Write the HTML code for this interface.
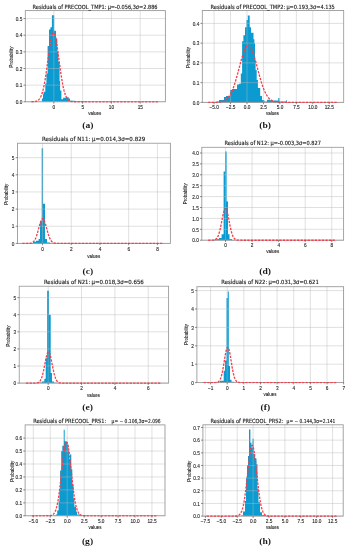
<!DOCTYPE html>
<html><head><meta charset="utf-8"><title>Residual histograms</title>
<style>
html,body{margin:0;padding:0;background:#fff;}
body{width:350px;height:550px;overflow:hidden;}
svg{display:block;}
.tk{font-family:"Liberation Sans", "DejaVu Sans", sans-serif;font-size:5.0px;fill:#222;stroke:#222;stroke-width:0.1px;}
.lb{font-family:"Liberation Sans", "DejaVu Sans", sans-serif;font-size:4.7px;fill:#151515;stroke:#151515;stroke-width:0.08px;}
.ti{font-family:"DejaVu Sans", "Liberation Sans", sans-serif;font-size:5.8px;fill:#1a1a1a;stroke:#1a1a1a;stroke-width:0.14px;}
.ti2{font-family:"DejaVu Sans", "Liberation Sans", sans-serif;font-size:5.5px;fill:#1a1a1a;stroke:#1a1a1a;stroke-width:0.14px;}
.cp{font-family:"Liberation Serif", "DejaVu Serif", serif;font-size:8.2px;font-weight:bold;fill:#1a1a1a;}
</style></head>
<body>
<svg width="350" height="550" viewBox="0 0 350 550">
<rect width="350" height="550" fill="#fff"/>
<clipPath id="c0"><rect x="24.30" y="9.60" width="142.10" height="93.20"/></clipPath>
<g clip-path="url(#c0)">
<path d="M41.90,101.80 L41.90,98.47 L43.00,98.47 L43.00,94.31 L43.60,94.31 L43.60,91.81 L45.30,91.81 L45.30,83.48 L46.40,83.48 L46.40,73.49 L47.60,73.49 L47.60,46.02 L49.00,46.02 L49.00,29.54 L50.40,29.54 L50.40,27.21 L51.90,27.21 L51.90,15.22 L54.20,15.22 L54.20,30.70 L56.00,30.70 L56.00,38.53 L57.30,38.53 L57.30,51.85 L58.40,51.85 L58.40,61.84 L59.60,61.84 L59.60,80.99 L60.10,80.99 L60.10,90.48 L61.40,90.48 L61.40,99.30 L63.10,99.30 L63.10,97.64 L66.10,97.64 L66.10,97.14 L68.70,97.14 L68.70,98.47 L70.00,98.47 L70.00,100.80 L75.00,100.80 L75.00,101.30 L85.00,101.30 L85.00,101.63 L95.00,101.63 L95.00,101.80 Z" fill="#0b9bd0"/>
<line x1="53.80" y1="10.60" x2="53.80" y2="101.80" stroke="#b8b8b8" stroke-opacity="0.55" stroke-width="0.8"/>
<line x1="82.60" y1="10.60" x2="82.60" y2="101.80" stroke="#b8b8b8" stroke-opacity="0.55" stroke-width="0.8"/>
<line x1="111.40" y1="10.60" x2="111.40" y2="101.80" stroke="#b8b8b8" stroke-opacity="0.55" stroke-width="0.8"/>
<line x1="140.20" y1="10.60" x2="140.20" y2="101.80" stroke="#b8b8b8" stroke-opacity="0.55" stroke-width="0.8"/>
<line x1="25.30" y1="101.80" x2="165.40" y2="101.80" stroke="#b8b8b8" stroke-opacity="0.55" stroke-width="0.8"/>
<line x1="25.30" y1="85.15" x2="165.40" y2="85.15" stroke="#b8b8b8" stroke-opacity="0.55" stroke-width="0.8"/>
<line x1="25.30" y1="68.50" x2="165.40" y2="68.50" stroke="#b8b8b8" stroke-opacity="0.55" stroke-width="0.8"/>
<line x1="25.30" y1="51.85" x2="165.40" y2="51.85" stroke="#b8b8b8" stroke-opacity="0.55" stroke-width="0.8"/>
<line x1="25.30" y1="35.20" x2="165.40" y2="35.20" stroke="#b8b8b8" stroke-opacity="0.55" stroke-width="0.8"/>
<line x1="25.30" y1="18.55" x2="165.40" y2="18.55" stroke="#b8b8b8" stroke-opacity="0.55" stroke-width="0.8"/>
<rect x="25.30" y="10.60" width="140.10" height="91.20" fill="none" stroke="#9a9a9a" stroke-width="0.9"/>
<polyline points="31.45,101.77 32.09,101.76 32.73,101.74 33.36,101.70 34.00,101.66 34.64,101.59 35.28,101.49 35.91,101.35 36.55,101.15 37.19,100.88 37.82,100.52 38.46,100.04 39.10,99.42 39.74,98.61 40.37,97.58 41.01,96.30 41.65,94.73 42.29,92.82 42.92,90.54 43.56,87.88 44.20,84.81 44.84,81.34 45.47,77.48 46.11,73.27 46.75,68.78 47.38,64.08 48.02,59.27 48.66,54.49 49.30,49.86 49.93,45.52 50.57,41.62 51.21,38.30 51.85,35.68 52.48,33.85 53.12,32.90 53.76,32.84 54.40,33.69 55.03,35.42 55.67,37.95 56.31,41.20 56.94,45.03 57.58,49.32 58.22,53.93 58.86,58.70 59.49,63.51 60.13,68.23 60.77,72.75 61.41,77.00 62.04,80.90 62.68,84.42 63.32,87.54 63.96,90.25 64.59,92.57 65.23,94.52 65.87,96.13 66.51,97.45 67.14,98.50 67.78,99.33 68.42,99.98 69.05,100.47 69.69,100.85 70.33,101.12 70.97,101.33 71.60,101.47 72.24,101.58 72.88,101.65 73.52,101.70 74.15,101.73 74.79,101.76 75.43,101.77 76.07,101.78 76.70,101.79 77.34,101.79 77.98,101.80 78.61,101.80 79.25,101.80 79.89,101.80 80.53,101.80 81.16,101.80 81.80,101.80 82.44,101.80 83.08,101.80 83.71,101.80 84.35,101.80 84.99,101.80 85.63,101.80 86.26,101.80 86.90,101.80 87.54,101.80 88.17,101.80 88.81,101.80 89.45,101.80 90.09,101.80 90.72,101.80 91.36,101.80 92.00,101.80 92.64,101.80 93.27,101.80 93.91,101.80 94.55,101.80 95.19,101.80 95.82,101.80 96.46,101.80 97.10,101.80 97.73,101.80 98.37,101.80 99.01,101.80 99.65,101.80 100.28,101.80 100.92,101.80 101.56,101.80 102.20,101.80 102.83,101.80 103.47,101.80 104.11,101.80 104.75,101.80 105.38,101.80 106.02,101.80 106.66,101.80 107.30,101.80 107.93,101.80 108.57,101.80 109.21,101.80 109.84,101.80 110.48,101.80 111.12,101.80 111.76,101.80 112.39,101.80 113.03,101.80 113.67,101.80 114.31,101.80 114.94,101.80 115.58,101.80 116.22,101.80 116.86,101.80 117.49,101.80 118.13,101.80 118.77,101.80 119.40,101.80 120.04,101.80 120.68,101.80 121.32,101.80 121.95,101.80 122.59,101.80 123.23,101.80 123.87,101.80 124.50,101.80 125.14,101.80 125.78,101.80 126.42,101.80 127.05,101.80 127.69,101.80 128.33,101.80 128.96,101.80 129.60,101.80 130.24,101.80 130.88,101.80 131.51,101.80 132.15,101.80 132.79,101.80 133.43,101.80 134.06,101.80 134.70,101.80 135.34,101.80 135.98,101.80 136.61,101.80 137.25,101.80 137.89,101.80 138.52,101.80 139.16,101.80 139.80,101.80 140.44,101.80 141.07,101.80 141.71,101.80 142.35,101.80 142.99,101.80 143.62,101.80 144.26,101.80 144.90,101.80 145.54,101.80 146.17,101.80 146.81,101.80 147.45,101.80 148.09,101.80 148.72,101.80 149.36,101.80 150.00,101.80 150.63,101.80 151.27,101.80 151.91,101.80 152.55,101.80 153.18,101.80 153.82,101.80 154.46,101.80 155.10,101.80 155.73,101.80 156.37,101.80 157.01,101.80 157.65,101.80 158.28,101.80 158.92,101.80" fill="none" stroke="#f53f4c" stroke-width="1.35" stroke-dasharray="2.3,1.25"/>
</g>
<line x1="53.80" y1="101.80" x2="53.80" y2="103.60" stroke="#555" stroke-width="0.7"/>
<text transform="translate(53.90,108.60) scale(0.95,1)" text-anchor="middle" class="tk">0</text>
<line x1="82.60" y1="101.80" x2="82.60" y2="103.60" stroke="#555" stroke-width="0.7"/>
<text transform="translate(82.70,108.60) scale(0.95,1)" text-anchor="middle" class="tk">5</text>
<line x1="111.40" y1="101.80" x2="111.40" y2="103.60" stroke="#555" stroke-width="0.7"/>
<text transform="translate(111.50,108.60) scale(0.95,1)" text-anchor="middle" class="tk">10</text>
<line x1="140.20" y1="101.80" x2="140.20" y2="103.60" stroke="#555" stroke-width="0.7"/>
<text transform="translate(140.30,108.60) scale(0.95,1)" text-anchor="middle" class="tk">15</text>
<line x1="23.50" y1="101.80" x2="25.30" y2="101.80" stroke="#555" stroke-width="0.7"/>
<text transform="translate(22.30,104.00) scale(0.95,1)" text-anchor="end" class="tk">0.0</text>
<line x1="23.50" y1="85.15" x2="25.30" y2="85.15" stroke="#555" stroke-width="0.7"/>
<text transform="translate(22.30,87.35) scale(0.95,1)" text-anchor="end" class="tk">0.1</text>
<line x1="23.50" y1="68.50" x2="25.30" y2="68.50" stroke="#555" stroke-width="0.7"/>
<text transform="translate(22.30,70.70) scale(0.95,1)" text-anchor="end" class="tk">0.2</text>
<line x1="23.50" y1="51.85" x2="25.30" y2="51.85" stroke="#555" stroke-width="0.7"/>
<text transform="translate(22.30,54.05) scale(0.95,1)" text-anchor="end" class="tk">0.3</text>
<line x1="23.50" y1="35.20" x2="25.30" y2="35.20" stroke="#555" stroke-width="0.7"/>
<text transform="translate(22.30,37.40) scale(0.95,1)" text-anchor="end" class="tk">0.4</text>
<line x1="23.50" y1="18.55" x2="25.30" y2="18.55" stroke="#555" stroke-width="0.7"/>
<text transform="translate(22.30,20.75) scale(0.95,1)" text-anchor="end" class="tk">0.5</text>
<text x="32.50" y="8.60" class="ti" textLength="74.00" lengthAdjust="spacingAndGlyphs">Residuals of PRECOOL_TMP1:</text>
<text x="107.70" y="8.60" class="ti" textLength="49.80" lengthAdjust="spacingAndGlyphs">μ=-0.056,3σ=2.886</text>
<text transform="translate(94.70,114.50) scale(0.96,1)" text-anchor="middle" class="lb">values</text>
<text transform="translate(13.40,57.10) rotate(-90) scale(0.96,1)" text-anchor="middle" class="lb">Probability</text>
<text transform="translate(82.20,127.60) scale(1.17,1)" class="cp">(a)</text>
<clipPath id="c1"><rect x="201.30" y="9.50" width="143.40" height="93.90"/></clipPath>
<g clip-path="url(#c1)">
<path d="M217.00,102.40 L217.00,101.61 L219.00,101.61 L219.00,100.03 L224.00,100.03 L224.00,97.07 L226.00,97.07 L226.00,95.88 L230.00,95.88 L230.00,89.96 L232.00,89.96 L232.00,88.97 L237.00,88.97 L237.00,84.62 L238.90,84.62 L238.90,83.64 L240.80,83.64 L240.80,73.57 L242.10,73.57 L242.10,41.18 L243.40,41.18 L243.40,35.25 L245.00,35.25 L245.00,27.35 L246.50,27.35 L246.50,20.04 L247.80,20.04 L247.80,15.50 L249.70,15.50 L249.70,27.35 L251.00,27.35 L251.00,32.68 L253.50,32.68 L253.50,39.20 L254.40,39.20 L254.40,43.15 L255.00,43.15 L255.00,59.94 L255.60,59.94 L255.60,70.01 L256.70,70.01 L256.70,80.08 L257.90,80.08 L257.90,87.98 L260.20,87.98 L260.20,96.08 L262.00,96.08 L262.00,100.03 L264.30,100.03 L264.30,101.41 L267.00,101.41 L267.00,99.64 L270.60,99.64 L270.60,100.62 L278.30,100.62 L278.30,98.06 L279.50,98.06 L279.50,101.61 L286.00,101.61 L286.00,100.62 L287.00,100.62 L287.00,102.01 L300.00,102.01 L300.00,102.40 Z" fill="#0b9bd0"/>
<line x1="214.12" y1="10.50" x2="214.12" y2="102.40" stroke="#b8b8b8" stroke-opacity="0.55" stroke-width="0.8"/>
<line x1="230.56" y1="10.50" x2="230.56" y2="102.40" stroke="#b8b8b8" stroke-opacity="0.55" stroke-width="0.8"/>
<line x1="247.00" y1="10.50" x2="247.00" y2="102.40" stroke="#b8b8b8" stroke-opacity="0.55" stroke-width="0.8"/>
<line x1="263.44" y1="10.50" x2="263.44" y2="102.40" stroke="#b8b8b8" stroke-opacity="0.55" stroke-width="0.8"/>
<line x1="279.88" y1="10.50" x2="279.88" y2="102.40" stroke="#b8b8b8" stroke-opacity="0.55" stroke-width="0.8"/>
<line x1="296.32" y1="10.50" x2="296.32" y2="102.40" stroke="#b8b8b8" stroke-opacity="0.55" stroke-width="0.8"/>
<line x1="312.76" y1="10.50" x2="312.76" y2="102.40" stroke="#b8b8b8" stroke-opacity="0.55" stroke-width="0.8"/>
<line x1="329.20" y1="10.50" x2="329.20" y2="102.40" stroke="#b8b8b8" stroke-opacity="0.55" stroke-width="0.8"/>
<line x1="202.30" y1="102.40" x2="343.70" y2="102.40" stroke="#b8b8b8" stroke-opacity="0.55" stroke-width="0.8"/>
<line x1="202.30" y1="82.65" x2="343.70" y2="82.65" stroke="#b8b8b8" stroke-opacity="0.55" stroke-width="0.8"/>
<line x1="202.30" y1="62.90" x2="343.70" y2="62.90" stroke="#b8b8b8" stroke-opacity="0.55" stroke-width="0.8"/>
<line x1="202.30" y1="43.15" x2="343.70" y2="43.15" stroke="#b8b8b8" stroke-opacity="0.55" stroke-width="0.8"/>
<line x1="202.30" y1="23.40" x2="343.70" y2="23.40" stroke="#b8b8b8" stroke-opacity="0.55" stroke-width="0.8"/>
<rect x="202.30" y="10.50" width="141.40" height="91.90" fill="none" stroke="#9a9a9a" stroke-width="0.9"/>
<polyline points="208.20,102.40 208.85,102.40 209.49,102.39 210.13,102.39 210.78,102.39 211.42,102.39 212.07,102.38 212.71,102.37 213.36,102.37 214.00,102.35 214.65,102.34 215.29,102.32 215.93,102.30 216.58,102.27 217.22,102.24 217.87,102.19 218.51,102.14 219.16,102.07 219.80,101.99 220.45,101.89 221.09,101.76 221.74,101.61 222.38,101.43 223.02,101.22 223.67,100.96 224.31,100.66 224.96,100.31 225.60,99.89 226.25,99.41 226.89,98.86 227.54,98.22 228.18,97.50 228.82,96.68 229.47,95.75 230.11,94.71 230.76,93.56 231.40,92.28 232.05,90.88 232.69,89.35 233.34,87.69 233.98,85.90 234.62,83.99 235.27,81.96 235.91,79.83 236.56,77.59 237.20,75.28 237.85,72.89 238.49,70.46 239.14,68.00 239.78,65.53 240.42,63.10 241.07,60.71 241.71,58.39 242.36,56.19 243.00,54.12 243.65,52.21 244.29,50.49 244.94,48.98 245.58,47.70 246.22,46.67 246.87,45.91 247.51,45.43 248.16,45.24 248.80,45.33 249.45,45.72 250.09,46.38 250.74,47.31 251.38,48.50 252.02,49.94 252.67,51.59 253.31,53.44 253.96,55.45 254.60,57.62 255.25,59.89 255.89,62.26 256.54,64.68 257.18,67.14 257.82,69.60 258.47,72.05 259.11,74.45 259.76,76.80 260.40,79.06 261.05,81.24 261.69,83.30 262.34,85.25 262.98,87.08 263.62,88.79 264.27,90.36 264.91,91.81 265.56,93.13 266.20,94.33 266.85,95.40 267.49,96.37 268.14,97.22 268.78,97.98 269.42,98.65 270.07,99.23 270.71,99.74 271.36,100.17 272.00,100.54 272.65,100.86 273.29,101.13 273.94,101.36 274.58,101.55 275.22,101.71 275.87,101.85 276.51,101.95 277.16,102.04 277.80,102.12 278.45,102.18 279.09,102.22 279.74,102.26 280.38,102.29 281.02,102.32 281.67,102.34 282.31,102.35 282.96,102.36 283.60,102.37 284.25,102.38 284.89,102.38 285.54,102.39 286.18,102.39 286.82,102.39 287.47,102.40 288.11,102.40 288.76,102.40 289.40,102.40 290.05,102.40 290.69,102.40 291.34,102.40 291.98,102.40 292.62,102.40 293.27,102.40 293.91,102.40 294.56,102.40 295.20,102.40 295.85,102.40 296.49,102.40 297.14,102.40 297.78,102.40 298.42,102.40 299.07,102.40 299.71,102.40 300.36,102.40 301.00,102.40 301.65,102.40 302.29,102.40 302.94,102.40 303.58,102.40 304.22,102.40 304.87,102.40 305.51,102.40 306.16,102.40 306.80,102.40 307.45,102.40 308.09,102.40 308.74,102.40 309.38,102.40 310.02,102.40 310.67,102.40 311.31,102.40 311.96,102.40 312.60,102.40 313.25,102.40 313.89,102.40 314.54,102.40 315.18,102.40 315.82,102.40 316.47,102.40 317.11,102.40 317.76,102.40 318.40,102.40 319.05,102.40 319.69,102.40 320.34,102.40 320.98,102.40 321.62,102.40 322.27,102.40 322.91,102.40 323.56,102.40 324.20,102.40 324.85,102.40 325.49,102.40 326.14,102.40 326.78,102.40 327.42,102.40 328.07,102.40 328.71,102.40 329.36,102.40 330.00,102.40 330.65,102.40 331.29,102.40 331.94,102.40 332.58,102.40 333.22,102.40 333.87,102.40 334.51,102.40 335.16,102.40 335.80,102.40 336.45,102.40 337.09,102.40" fill="none" stroke="#f53f4c" stroke-width="1.35" stroke-dasharray="2.3,1.25"/>
</g>
<line x1="214.12" y1="102.40" x2="214.12" y2="104.20" stroke="#555" stroke-width="0.7"/>
<text transform="translate(214.22,108.70) scale(0.95,1)" text-anchor="middle" class="tk">−5.0</text>
<line x1="230.56" y1="102.40" x2="230.56" y2="104.20" stroke="#555" stroke-width="0.7"/>
<text transform="translate(230.66,108.70) scale(0.95,1)" text-anchor="middle" class="tk">−2.5</text>
<line x1="247.00" y1="102.40" x2="247.00" y2="104.20" stroke="#555" stroke-width="0.7"/>
<text transform="translate(247.10,108.70) scale(0.95,1)" text-anchor="middle" class="tk">0.0</text>
<line x1="263.44" y1="102.40" x2="263.44" y2="104.20" stroke="#555" stroke-width="0.7"/>
<text transform="translate(263.54,108.70) scale(0.95,1)" text-anchor="middle" class="tk">2.5</text>
<line x1="279.88" y1="102.40" x2="279.88" y2="104.20" stroke="#555" stroke-width="0.7"/>
<text transform="translate(279.98,108.70) scale(0.95,1)" text-anchor="middle" class="tk">5.0</text>
<line x1="296.32" y1="102.40" x2="296.32" y2="104.20" stroke="#555" stroke-width="0.7"/>
<text transform="translate(296.42,108.70) scale(0.95,1)" text-anchor="middle" class="tk">7.5</text>
<line x1="312.76" y1="102.40" x2="312.76" y2="104.20" stroke="#555" stroke-width="0.7"/>
<text transform="translate(312.86,108.70) scale(0.95,1)" text-anchor="middle" class="tk">10.0</text>
<line x1="329.20" y1="102.40" x2="329.20" y2="104.20" stroke="#555" stroke-width="0.7"/>
<text transform="translate(329.30,108.70) scale(0.95,1)" text-anchor="middle" class="tk">12.5</text>
<line x1="200.50" y1="102.40" x2="202.30" y2="102.40" stroke="#555" stroke-width="0.7"/>
<text transform="translate(199.30,104.60) scale(0.95,1)" text-anchor="end" class="tk">0.0</text>
<line x1="200.50" y1="82.65" x2="202.30" y2="82.65" stroke="#555" stroke-width="0.7"/>
<text transform="translate(199.30,84.85) scale(0.95,1)" text-anchor="end" class="tk">0.1</text>
<line x1="200.50" y1="62.90" x2="202.30" y2="62.90" stroke="#555" stroke-width="0.7"/>
<text transform="translate(199.30,65.10) scale(0.95,1)" text-anchor="end" class="tk">0.2</text>
<line x1="200.50" y1="43.15" x2="202.30" y2="43.15" stroke="#555" stroke-width="0.7"/>
<text transform="translate(199.30,45.35) scale(0.95,1)" text-anchor="end" class="tk">0.3</text>
<line x1="200.50" y1="23.40" x2="202.30" y2="23.40" stroke="#555" stroke-width="0.7"/>
<text transform="translate(199.30,25.60) scale(0.95,1)" text-anchor="end" class="tk">0.4</text>
<text x="210.50" y="8.60" class="ti" textLength="74.70" lengthAdjust="spacingAndGlyphs">Residuals of PRECOOL_TMP2:</text>
<text x="286.40" y="8.60" class="ti" textLength="48.40" lengthAdjust="spacingAndGlyphs">μ=0.193,3σ=4.135</text>
<text transform="translate(272.50,114.60) scale(0.96,1)" text-anchor="middle" class="lb">values</text>
<text transform="translate(190.20,57.40) rotate(-90) scale(0.96,1)" text-anchor="middle" class="lb">Probability</text>
<text transform="translate(259.30,127.60) scale(1.17,1)" class="cp">(b)</text>
<clipPath id="c2"><rect x="16.50" y="142.20" width="154.90" height="102.20"/></clipPath>
<g clip-path="url(#c2)">
<path d="M30.00,243.40 L30.00,242.89 L33.00,242.89 L33.00,241.69 L36.00,241.69 L36.00,240.83 L38.60,240.83 L38.60,239.11 L40.00,239.11 L40.00,221.28 L41.70,221.28 L41.70,148.22 L43.10,148.22 L43.10,203.78 L45.00,203.78 L45.00,239.11 L47.00,239.11 L47.00,242.54 L50.00,242.54 L50.00,243.23 L55.00,243.23 L55.00,243.40 Z" fill="#0b9bd0"/>
<line x1="42.50" y1="143.20" x2="42.50" y2="243.40" stroke="#b8b8b8" stroke-opacity="0.55" stroke-width="0.8"/>
<line x1="71.22" y1="143.20" x2="71.22" y2="243.40" stroke="#b8b8b8" stroke-opacity="0.55" stroke-width="0.8"/>
<line x1="99.94" y1="143.20" x2="99.94" y2="243.40" stroke="#b8b8b8" stroke-opacity="0.55" stroke-width="0.8"/>
<line x1="128.66" y1="143.20" x2="128.66" y2="243.40" stroke="#b8b8b8" stroke-opacity="0.55" stroke-width="0.8"/>
<line x1="157.38" y1="143.20" x2="157.38" y2="243.40" stroke="#b8b8b8" stroke-opacity="0.55" stroke-width="0.8"/>
<line x1="17.50" y1="243.40" x2="170.40" y2="243.40" stroke="#b8b8b8" stroke-opacity="0.55" stroke-width="0.8"/>
<line x1="17.50" y1="226.25" x2="170.40" y2="226.25" stroke="#b8b8b8" stroke-opacity="0.55" stroke-width="0.8"/>
<line x1="17.50" y1="209.10" x2="170.40" y2="209.10" stroke="#b8b8b8" stroke-opacity="0.55" stroke-width="0.8"/>
<line x1="17.50" y1="191.95" x2="170.40" y2="191.95" stroke="#b8b8b8" stroke-opacity="0.55" stroke-width="0.8"/>
<line x1="17.50" y1="174.80" x2="170.40" y2="174.80" stroke="#b8b8b8" stroke-opacity="0.55" stroke-width="0.8"/>
<line x1="17.50" y1="157.65" x2="170.40" y2="157.65" stroke="#b8b8b8" stroke-opacity="0.55" stroke-width="0.8"/>
<rect x="17.50" y="143.20" width="152.90" height="100.20" fill="none" stroke="#9a9a9a" stroke-width="0.9"/>
<polyline points="22.40,243.40 23.10,243.40 23.81,243.40 24.51,243.40 25.22,243.40 25.92,243.40 26.63,243.39 27.34,243.39 28.04,243.37 28.75,243.35 29.45,243.31 30.16,243.23 30.87,243.11 31.57,242.92 32.28,242.61 32.98,242.17 33.69,241.52 34.39,240.63 35.10,239.45 35.81,237.93 36.51,236.06 37.22,233.87 37.92,231.41 38.63,228.77 39.34,226.12 40.04,223.62 40.75,221.47 41.45,219.84 42.16,218.87 42.86,218.66 43.57,219.23 44.28,220.52 44.98,222.41 45.69,224.75 46.39,227.34 47.10,230.00 47.80,232.57 48.51,234.92 49.22,236.97 49.92,238.67 50.63,240.03 51.33,241.08 52.04,241.85 52.75,242.39 53.45,242.77 54.16,243.02 54.86,243.17 55.57,243.27 56.27,243.33 56.98,243.36 57.69,243.38 58.39,243.39 59.10,243.40 59.80,243.40 60.51,243.40 61.21,243.40 61.92,243.40 62.63,243.40 63.33,243.40 64.04,243.40 64.74,243.40 65.45,243.40 66.16,243.40 66.86,243.40 67.57,243.40 68.27,243.40 68.98,243.40 69.68,243.40 70.39,243.40 71.10,243.40 71.80,243.40 72.51,243.40 73.21,243.40 73.92,243.40 74.62,243.40 75.33,243.40 76.04,243.40 76.74,243.40 77.45,243.40 78.15,243.40 78.86,243.40 79.57,243.40 80.27,243.40 80.98,243.40 81.68,243.40 82.39,243.40 83.09,243.40 83.80,243.40 84.51,243.40 85.21,243.40 85.92,243.40 86.62,243.40 87.33,243.40 88.03,243.40 88.74,243.40 89.45,243.40 90.15,243.40 90.86,243.40 91.56,243.40 92.27,243.40 92.98,243.40 93.68,243.40 94.39,243.40 95.09,243.40 95.80,243.40 96.50,243.40 97.21,243.40 97.92,243.40 98.62,243.40 99.33,243.40 100.03,243.40 100.74,243.40 101.44,243.40 102.15,243.40 102.86,243.40 103.56,243.40 104.27,243.40 104.97,243.40 105.68,243.40 106.39,243.40 107.09,243.40 107.80,243.40 108.50,243.40 109.21,243.40 109.91,243.40 110.62,243.40 111.33,243.40 112.03,243.40 112.74,243.40 113.44,243.40 114.15,243.40 114.86,243.40 115.56,243.40 116.27,243.40 116.97,243.40 117.68,243.40 118.38,243.40 119.09,243.40 119.80,243.40 120.50,243.40 121.21,243.40 121.91,243.40 122.62,243.40 123.32,243.40 124.03,243.40 124.74,243.40 125.44,243.40 126.15,243.40 126.85,243.40 127.56,243.40 128.27,243.40 128.97,243.40 129.68,243.40 130.38,243.40 131.09,243.40 131.79,243.40 132.50,243.40 133.21,243.40 133.91,243.40 134.62,243.40 135.32,243.40 136.03,243.40 136.73,243.40 137.44,243.40 138.15,243.40 138.85,243.40 139.56,243.40 140.26,243.40 140.97,243.40 141.68,243.40 142.38,243.40 143.09,243.40 143.79,243.40 144.50,243.40 145.20,243.40 145.91,243.40 146.62,243.40 147.32,243.40 148.03,243.40 148.73,243.40 149.44,243.40 150.14,243.40 150.85,243.40 151.56,243.40 152.26,243.40 152.97,243.40 153.67,243.40 154.38,243.40 155.09,243.40 155.79,243.40 156.50,243.40 157.20,243.40 157.91,243.40 158.61,243.40 159.32,243.40 160.03,243.40 160.73,243.40 161.44,243.40 162.14,243.40 162.85,243.40 163.55,243.40" fill="none" stroke="#f53f4c" stroke-width="1.35" stroke-dasharray="2.3,1.25"/>
</g>
<line x1="42.50" y1="243.40" x2="42.50" y2="245.20" stroke="#555" stroke-width="0.7"/>
<text transform="translate(42.60,250.70) scale(0.95,1)" text-anchor="middle" class="tk">0</text>
<line x1="71.22" y1="243.40" x2="71.22" y2="245.20" stroke="#555" stroke-width="0.7"/>
<text transform="translate(71.32,250.70) scale(0.95,1)" text-anchor="middle" class="tk">2</text>
<line x1="99.94" y1="243.40" x2="99.94" y2="245.20" stroke="#555" stroke-width="0.7"/>
<text transform="translate(100.04,250.70) scale(0.95,1)" text-anchor="middle" class="tk">4</text>
<line x1="128.66" y1="243.40" x2="128.66" y2="245.20" stroke="#555" stroke-width="0.7"/>
<text transform="translate(128.76,250.70) scale(0.95,1)" text-anchor="middle" class="tk">6</text>
<line x1="157.38" y1="243.40" x2="157.38" y2="245.20" stroke="#555" stroke-width="0.7"/>
<text transform="translate(157.48,250.70) scale(0.95,1)" text-anchor="middle" class="tk">8</text>
<line x1="15.70" y1="243.40" x2="17.50" y2="243.40" stroke="#555" stroke-width="0.7"/>
<text transform="translate(14.50,245.60) scale(0.95,1)" text-anchor="end" class="tk">0</text>
<line x1="15.70" y1="226.25" x2="17.50" y2="226.25" stroke="#555" stroke-width="0.7"/>
<text transform="translate(14.50,228.45) scale(0.95,1)" text-anchor="end" class="tk">1</text>
<line x1="15.70" y1="209.10" x2="17.50" y2="209.10" stroke="#555" stroke-width="0.7"/>
<text transform="translate(14.50,211.30) scale(0.95,1)" text-anchor="end" class="tk">2</text>
<line x1="15.70" y1="191.95" x2="17.50" y2="191.95" stroke="#555" stroke-width="0.7"/>
<text transform="translate(14.50,194.15) scale(0.95,1)" text-anchor="end" class="tk">3</text>
<line x1="15.70" y1="174.80" x2="17.50" y2="174.80" stroke="#555" stroke-width="0.7"/>
<text transform="translate(14.50,177.00) scale(0.95,1)" text-anchor="end" class="tk">4</text>
<line x1="15.70" y1="157.65" x2="17.50" y2="157.65" stroke="#555" stroke-width="0.7"/>
<text transform="translate(14.50,159.85) scale(0.95,1)" text-anchor="end" class="tk">5</text>
<text x="42.00" y="140.50" class="ti" textLength="48.30" lengthAdjust="spacingAndGlyphs">Residuals of N11:</text>
<text x="92.00" y="140.50" class="ti" textLength="53.20" lengthAdjust="spacingAndGlyphs">μ=0.014,3σ=0.829</text>
<text transform="translate(93.80,257.80) scale(0.96,1)" text-anchor="middle" class="lb">values</text>
<text transform="translate(8.10,194.30) rotate(-90) scale(0.96,1)" text-anchor="middle" class="lb">Probability</text>
<text transform="translate(82.50,273.80) scale(1.17,1)" class="cp">(c)</text>
<clipPath id="c3"><rect x="200.80" y="146.30" width="143.80" height="94.90"/></clipPath>
<g clip-path="url(#c3)">
<path d="M214.00,240.20 L214.00,239.55 L217.00,239.55 L217.00,238.89 L219.00,238.89 L219.00,238.02 L221.60,238.02 L221.60,234.31 L223.60,234.31 L223.60,171.53 L225.10,171.53 L225.10,151.47 L226.60,151.47 L226.60,201.40 L228.00,201.40 L228.00,234.31 L229.50,234.31 L229.50,238.89 L232.00,238.89 L232.00,239.98 L236.00,239.98 L236.00,240.20 Z" fill="#0b9bd0"/>
<line x1="225.50" y1="147.30" x2="225.50" y2="240.20" stroke="#b8b8b8" stroke-opacity="0.55" stroke-width="0.8"/>
<line x1="252.06" y1="147.30" x2="252.06" y2="240.20" stroke="#b8b8b8" stroke-opacity="0.55" stroke-width="0.8"/>
<line x1="278.62" y1="147.30" x2="278.62" y2="240.20" stroke="#b8b8b8" stroke-opacity="0.55" stroke-width="0.8"/>
<line x1="305.18" y1="147.30" x2="305.18" y2="240.20" stroke="#b8b8b8" stroke-opacity="0.55" stroke-width="0.8"/>
<line x1="331.74" y1="147.30" x2="331.74" y2="240.20" stroke="#b8b8b8" stroke-opacity="0.55" stroke-width="0.8"/>
<line x1="201.80" y1="240.20" x2="343.60" y2="240.20" stroke="#b8b8b8" stroke-opacity="0.55" stroke-width="0.8"/>
<line x1="201.80" y1="229.30" x2="343.60" y2="229.30" stroke="#b8b8b8" stroke-opacity="0.55" stroke-width="0.8"/>
<line x1="201.80" y1="218.40" x2="343.60" y2="218.40" stroke="#b8b8b8" stroke-opacity="0.55" stroke-width="0.8"/>
<line x1="201.80" y1="207.50" x2="343.60" y2="207.50" stroke="#b8b8b8" stroke-opacity="0.55" stroke-width="0.8"/>
<line x1="201.80" y1="196.60" x2="343.60" y2="196.60" stroke="#b8b8b8" stroke-opacity="0.55" stroke-width="0.8"/>
<line x1="201.80" y1="185.70" x2="343.60" y2="185.70" stroke="#b8b8b8" stroke-opacity="0.55" stroke-width="0.8"/>
<line x1="201.80" y1="174.80" x2="343.60" y2="174.80" stroke="#b8b8b8" stroke-opacity="0.55" stroke-width="0.8"/>
<line x1="201.80" y1="163.90" x2="343.60" y2="163.90" stroke="#b8b8b8" stroke-opacity="0.55" stroke-width="0.8"/>
<line x1="201.80" y1="153.00" x2="343.60" y2="153.00" stroke="#b8b8b8" stroke-opacity="0.55" stroke-width="0.8"/>
<rect x="201.80" y="147.30" width="141.80" height="92.90" fill="none" stroke="#9a9a9a" stroke-width="0.9"/>
<polyline points="208.24,240.20 208.87,240.20 209.51,240.20 210.15,240.19 210.79,240.19 211.42,240.18 212.06,240.16 212.70,240.13 213.34,240.07 213.97,239.97 214.61,239.81 215.25,239.56 215.89,239.17 216.52,238.60 217.16,237.79 217.80,236.67 218.44,235.20 219.07,233.32 219.71,231.01 220.35,228.30 220.98,225.26 221.62,221.99 222.26,218.67 222.90,215.51 223.53,212.73 224.17,210.55 224.81,209.15 225.45,208.65 226.08,209.11 226.72,210.47 227.36,212.62 228.00,215.38 228.63,218.53 229.27,221.85 229.91,225.12 230.55,228.18 231.18,230.91 231.82,233.23 232.46,235.13 233.10,236.62 233.73,237.75 234.37,238.57 235.01,239.15 235.65,239.54 236.28,239.80 236.92,239.97 237.56,240.07 238.20,240.13 238.83,240.16 239.47,240.18 240.11,240.19 240.75,240.19 241.38,240.20 242.02,240.20 242.66,240.20 243.30,240.20 243.93,240.20 244.57,240.20 245.21,240.20 245.84,240.20 246.48,240.20 247.12,240.20 247.76,240.20 248.39,240.20 249.03,240.20 249.67,240.20 250.31,240.20 250.94,240.20 251.58,240.20 252.22,240.20 252.86,240.20 253.49,240.20 254.13,240.20 254.77,240.20 255.41,240.20 256.04,240.20 256.68,240.20 257.32,240.20 257.96,240.20 258.59,240.20 259.23,240.20 259.87,240.20 260.51,240.20 261.14,240.20 261.78,240.20 262.42,240.20 263.06,240.20 263.69,240.20 264.33,240.20 264.97,240.20 265.61,240.20 266.24,240.20 266.88,240.20 267.52,240.20 268.16,240.20 268.79,240.20 269.43,240.20 270.07,240.20 270.71,240.20 271.34,240.20 271.98,240.20 272.62,240.20 273.25,240.20 273.89,240.20 274.53,240.20 275.17,240.20 275.80,240.20 276.44,240.20 277.08,240.20 277.72,240.20 278.35,240.20 278.99,240.20 279.63,240.20 280.27,240.20 280.90,240.20 281.54,240.20 282.18,240.20 282.82,240.20 283.45,240.20 284.09,240.20 284.73,240.20 285.37,240.20 286.00,240.20 286.64,240.20 287.28,240.20 287.92,240.20 288.55,240.20 289.19,240.20 289.83,240.20 290.47,240.20 291.10,240.20 291.74,240.20 292.38,240.20 293.02,240.20 293.65,240.20 294.29,240.20 294.93,240.20 295.57,240.20 296.20,240.20 296.84,240.20 297.48,240.20 298.12,240.20 298.75,240.20 299.39,240.20 300.03,240.20 300.66,240.20 301.30,240.20 301.94,240.20 302.58,240.20 303.21,240.20 303.85,240.20 304.49,240.20 305.13,240.20 305.76,240.20 306.40,240.20 307.04,240.20 307.68,240.20 308.31,240.20 308.95,240.20 309.59,240.20 310.23,240.20 310.86,240.20 311.50,240.20 312.14,240.20 312.78,240.20 313.41,240.20 314.05,240.20 314.69,240.20 315.33,240.20 315.96,240.20 316.60,240.20 317.24,240.20 317.88,240.20 318.51,240.20 319.15,240.20 319.79,240.20 320.43,240.20 321.06,240.20 321.70,240.20 322.34,240.20 322.98,240.20 323.61,240.20 324.25,240.20 324.89,240.20 325.52,240.20 326.16,240.20 326.80,240.20 327.44,240.20 328.07,240.20 328.71,240.20 329.35,240.20 329.99,240.20 330.62,240.20 331.26,240.20 331.90,240.20 332.54,240.20 333.17,240.20 333.81,240.20 334.45,240.20 335.09,240.20 335.72,240.20" fill="none" stroke="#f53f4c" stroke-width="1.35" stroke-dasharray="2.3,1.25"/>
</g>
<line x1="225.50" y1="240.20" x2="225.50" y2="242.00" stroke="#555" stroke-width="0.7"/>
<text transform="translate(225.60,246.70) scale(0.95,1)" text-anchor="middle" class="tk">0</text>
<line x1="252.06" y1="240.20" x2="252.06" y2="242.00" stroke="#555" stroke-width="0.7"/>
<text transform="translate(252.16,246.70) scale(0.95,1)" text-anchor="middle" class="tk">2</text>
<line x1="278.62" y1="240.20" x2="278.62" y2="242.00" stroke="#555" stroke-width="0.7"/>
<text transform="translate(278.72,246.70) scale(0.95,1)" text-anchor="middle" class="tk">4</text>
<line x1="305.18" y1="240.20" x2="305.18" y2="242.00" stroke="#555" stroke-width="0.7"/>
<text transform="translate(305.28,246.70) scale(0.95,1)" text-anchor="middle" class="tk">6</text>
<line x1="331.74" y1="240.20" x2="331.74" y2="242.00" stroke="#555" stroke-width="0.7"/>
<text transform="translate(331.84,246.70) scale(0.95,1)" text-anchor="middle" class="tk">8</text>
<line x1="200.00" y1="240.20" x2="201.80" y2="240.20" stroke="#555" stroke-width="0.7"/>
<text transform="translate(198.80,242.40) scale(0.95,1)" text-anchor="end" class="tk">0.0</text>
<line x1="200.00" y1="229.30" x2="201.80" y2="229.30" stroke="#555" stroke-width="0.7"/>
<text transform="translate(198.80,231.50) scale(0.95,1)" text-anchor="end" class="tk">0.5</text>
<line x1="200.00" y1="218.40" x2="201.80" y2="218.40" stroke="#555" stroke-width="0.7"/>
<text transform="translate(198.80,220.60) scale(0.95,1)" text-anchor="end" class="tk">1.0</text>
<line x1="200.00" y1="207.50" x2="201.80" y2="207.50" stroke="#555" stroke-width="0.7"/>
<text transform="translate(198.80,209.70) scale(0.95,1)" text-anchor="end" class="tk">1.5</text>
<line x1="200.00" y1="196.60" x2="201.80" y2="196.60" stroke="#555" stroke-width="0.7"/>
<text transform="translate(198.80,198.80) scale(0.95,1)" text-anchor="end" class="tk">2.0</text>
<line x1="200.00" y1="185.70" x2="201.80" y2="185.70" stroke="#555" stroke-width="0.7"/>
<text transform="translate(198.80,187.90) scale(0.95,1)" text-anchor="end" class="tk">2.5</text>
<line x1="200.00" y1="174.80" x2="201.80" y2="174.80" stroke="#555" stroke-width="0.7"/>
<text transform="translate(198.80,177.00) scale(0.95,1)" text-anchor="end" class="tk">3.0</text>
<line x1="200.00" y1="163.90" x2="201.80" y2="163.90" stroke="#555" stroke-width="0.7"/>
<text transform="translate(198.80,166.10) scale(0.95,1)" text-anchor="end" class="tk">3.5</text>
<line x1="200.00" y1="153.00" x2="201.80" y2="153.00" stroke="#555" stroke-width="0.7"/>
<text transform="translate(198.80,155.20) scale(0.95,1)" text-anchor="end" class="tk">4.0</text>
<text x="224.50" y="144.90" class="ti" textLength="44.40" lengthAdjust="spacingAndGlyphs">Residuals of N12:</text>
<text x="270.60" y="144.90" class="ti" textLength="50.30" lengthAdjust="spacingAndGlyphs">μ=-0.003,3σ=0.827</text>
<text transform="translate(272.70,252.60) scale(0.96,1)" text-anchor="middle" class="lb">values</text>
<text transform="translate(187.10,193.70) rotate(-90) scale(0.96,1)" text-anchor="middle" class="lb">Probability</text>
<text transform="translate(259.30,273.80) scale(1.17,1)" class="cp">(d)</text>
<clipPath id="c4"><rect x="18.20" y="285.20" width="151.40" height="98.90"/></clipPath>
<g clip-path="url(#c4)">
<path d="M38.00,383.10 L38.00,382.59 L42.00,382.59 L42.00,381.39 L44.30,381.39 L44.30,378.83 L45.70,378.83 L45.70,358.13 L47.10,358.13 L47.10,290.76 L49.00,290.76 L49.00,314.70 L50.70,314.70 L50.70,373.01 L52.00,373.01 L52.00,381.39 L54.00,381.39 L54.00,382.76 L57.00,382.76 L57.00,383.10 Z" fill="#0b9bd0"/>
<line x1="48.20" y1="286.20" x2="48.20" y2="383.10" stroke="#b8b8b8" stroke-opacity="0.55" stroke-width="0.8"/>
<line x1="81.54" y1="286.20" x2="81.54" y2="383.10" stroke="#b8b8b8" stroke-opacity="0.55" stroke-width="0.8"/>
<line x1="114.88" y1="286.20" x2="114.88" y2="383.10" stroke="#b8b8b8" stroke-opacity="0.55" stroke-width="0.8"/>
<line x1="148.22" y1="286.20" x2="148.22" y2="383.10" stroke="#b8b8b8" stroke-opacity="0.55" stroke-width="0.8"/>
<line x1="19.20" y1="383.10" x2="168.60" y2="383.10" stroke="#b8b8b8" stroke-opacity="0.55" stroke-width="0.8"/>
<line x1="19.20" y1="366.00" x2="168.60" y2="366.00" stroke="#b8b8b8" stroke-opacity="0.55" stroke-width="0.8"/>
<line x1="19.20" y1="348.90" x2="168.60" y2="348.90" stroke="#b8b8b8" stroke-opacity="0.55" stroke-width="0.8"/>
<line x1="19.20" y1="331.80" x2="168.60" y2="331.80" stroke="#b8b8b8" stroke-opacity="0.55" stroke-width="0.8"/>
<line x1="19.20" y1="314.70" x2="168.60" y2="314.70" stroke="#b8b8b8" stroke-opacity="0.55" stroke-width="0.8"/>
<line x1="19.20" y1="297.60" x2="168.60" y2="297.60" stroke="#b8b8b8" stroke-opacity="0.55" stroke-width="0.8"/>
<rect x="19.20" y="286.20" width="149.40" height="96.90" fill="none" stroke="#9a9a9a" stroke-width="0.9"/>
<polyline points="26.03,383.10 26.70,383.10 27.37,383.10 28.05,383.10 28.72,383.10 29.39,383.10 30.06,383.10 30.74,383.10 31.41,383.10 32.08,383.10 32.76,383.10 33.43,383.09 34.10,383.09 34.77,383.07 35.45,383.05 36.12,383.00 36.79,382.92 37.46,382.78 38.14,382.55 38.81,382.19 39.48,381.64 40.15,380.83 40.83,379.70 41.50,378.17 42.17,376.19 42.84,373.74 43.52,370.84 44.19,367.59 44.86,364.14 45.54,360.69 46.21,357.50 46.88,354.83 47.55,352.94 48.23,351.99 48.90,352.09 49.57,353.22 50.24,355.27 50.92,358.06 51.59,361.31 52.26,364.78 52.93,368.21 53.61,371.41 54.28,374.22 54.95,376.59 55.62,378.48 56.30,379.93 56.97,381.00 57.64,381.76 58.32,382.27 58.99,382.60 59.66,382.81 60.33,382.94 61.01,383.01 61.68,383.05 62.35,383.08 63.02,383.09 63.70,383.09 64.37,383.10 65.04,383.10 65.71,383.10 66.39,383.10 67.06,383.10 67.73,383.10 68.40,383.10 69.08,383.10 69.75,383.10 70.42,383.10 71.10,383.10 71.77,383.10 72.44,383.10 73.11,383.10 73.79,383.10 74.46,383.10 75.13,383.10 75.80,383.10 76.48,383.10 77.15,383.10 77.82,383.10 78.49,383.10 79.17,383.10 79.84,383.10 80.51,383.10 81.18,383.10 81.86,383.10 82.53,383.10 83.20,383.10 83.88,383.10 84.55,383.10 85.22,383.10 85.89,383.10 86.57,383.10 87.24,383.10 87.91,383.10 88.58,383.10 89.26,383.10 89.93,383.10 90.60,383.10 91.27,383.10 91.95,383.10 92.62,383.10 93.29,383.10 93.96,383.10 94.64,383.10 95.31,383.10 95.98,383.10 96.66,383.10 97.33,383.10 98.00,383.10 98.67,383.10 99.35,383.10 100.02,383.10 100.69,383.10 101.36,383.10 102.04,383.10 102.71,383.10 103.38,383.10 104.05,383.10 104.73,383.10 105.40,383.10 106.07,383.10 106.75,383.10 107.42,383.10 108.09,383.10 108.76,383.10 109.44,383.10 110.11,383.10 110.78,383.10 111.45,383.10 112.13,383.10 112.80,383.10 113.47,383.10 114.14,383.10 114.82,383.10 115.49,383.10 116.16,383.10 116.83,383.10 117.51,383.10 118.18,383.10 118.85,383.10 119.53,383.10 120.20,383.10 120.87,383.10 121.54,383.10 122.22,383.10 122.89,383.10 123.56,383.10 124.23,383.10 124.91,383.10 125.58,383.10 126.25,383.10 126.92,383.10 127.60,383.10 128.27,383.10 128.94,383.10 129.61,383.10 130.29,383.10 130.96,383.10 131.63,383.10 132.31,383.10 132.98,383.10 133.65,383.10 134.32,383.10 135.00,383.10 135.67,383.10 136.34,383.10 137.01,383.10 137.69,383.10 138.36,383.10 139.03,383.10 139.70,383.10 140.38,383.10 141.05,383.10 141.72,383.10 142.39,383.10 143.07,383.10 143.74,383.10 144.41,383.10 145.09,383.10 145.76,383.10 146.43,383.10 147.10,383.10 147.78,383.10 148.45,383.10 149.12,383.10 149.79,383.10 150.47,383.10 151.14,383.10 151.81,383.10 152.48,383.10 153.16,383.10 153.83,383.10 154.50,383.10 155.17,383.10 155.85,383.10 156.52,383.10 157.19,383.10 157.87,383.10 158.54,383.10 159.21,383.10 159.88,383.10 160.56,383.10" fill="none" stroke="#f53f4c" stroke-width="1.35" stroke-dasharray="2.3,1.25"/>
</g>
<line x1="48.20" y1="383.10" x2="48.20" y2="384.90" stroke="#555" stroke-width="0.7"/>
<text transform="translate(48.30,390.30) scale(0.95,1)" text-anchor="middle" class="tk">0</text>
<line x1="81.54" y1="383.10" x2="81.54" y2="384.90" stroke="#555" stroke-width="0.7"/>
<text transform="translate(81.64,390.30) scale(0.95,1)" text-anchor="middle" class="tk">2</text>
<line x1="114.88" y1="383.10" x2="114.88" y2="384.90" stroke="#555" stroke-width="0.7"/>
<text transform="translate(114.98,390.30) scale(0.95,1)" text-anchor="middle" class="tk">4</text>
<line x1="148.22" y1="383.10" x2="148.22" y2="384.90" stroke="#555" stroke-width="0.7"/>
<text transform="translate(148.32,390.30) scale(0.95,1)" text-anchor="middle" class="tk">6</text>
<line x1="17.40" y1="383.10" x2="19.20" y2="383.10" stroke="#555" stroke-width="0.7"/>
<text transform="translate(16.20,385.30) scale(0.95,1)" text-anchor="end" class="tk">0</text>
<line x1="17.40" y1="366.00" x2="19.20" y2="366.00" stroke="#555" stroke-width="0.7"/>
<text transform="translate(16.20,368.20) scale(0.95,1)" text-anchor="end" class="tk">1</text>
<line x1="17.40" y1="348.90" x2="19.20" y2="348.90" stroke="#555" stroke-width="0.7"/>
<text transform="translate(16.20,351.10) scale(0.95,1)" text-anchor="end" class="tk">2</text>
<line x1="17.40" y1="331.80" x2="19.20" y2="331.80" stroke="#555" stroke-width="0.7"/>
<text transform="translate(16.20,334.00) scale(0.95,1)" text-anchor="end" class="tk">3</text>
<line x1="17.40" y1="314.70" x2="19.20" y2="314.70" stroke="#555" stroke-width="0.7"/>
<text transform="translate(16.20,316.90) scale(0.95,1)" text-anchor="end" class="tk">4</text>
<line x1="17.40" y1="297.60" x2="19.20" y2="297.60" stroke="#555" stroke-width="0.7"/>
<text transform="translate(16.20,299.80) scale(0.95,1)" text-anchor="end" class="tk">5</text>
<text x="43.90" y="283.90" class="ti" textLength="46.40" lengthAdjust="spacingAndGlyphs">Residuals of N21:</text>
<text x="91.60" y="283.90" class="ti" textLength="52.20" lengthAdjust="spacingAndGlyphs">μ=0.018,3σ=0.656</text>
<text transform="translate(93.60,396.60) scale(0.96,1)" text-anchor="middle" class="lb">values</text>
<text transform="translate(10.30,336.00) rotate(-90) scale(0.96,1)" text-anchor="middle" class="lb">Probability</text>
<text transform="translate(82.30,410.10) scale(1.17,1)" class="cp">(e)</text>
<clipPath id="c5"><rect x="195.90" y="285.70" width="148.70" height="97.90"/></clipPath>
<g clip-path="url(#c5)">
<path d="M216.00,382.60 L216.00,382.05 L220.00,382.05 L220.00,380.76 L223.70,380.76 L223.70,370.64 L225.00,370.64 L225.00,360.52 L226.50,360.52 L226.50,297.96 L227.70,297.96 L227.70,291.52 L228.80,291.52 L228.80,366.04 L230.00,366.04 L230.00,379.66 L231.50,379.66 L231.50,381.68 L234.00,381.68 L234.00,382.42 L238.00,382.42 L238.00,382.60 Z" fill="#0b9bd0"/>
<line x1="210.57" y1="286.70" x2="210.57" y2="382.60" stroke="#b8b8b8" stroke-opacity="0.55" stroke-width="0.8"/>
<line x1="227.20" y1="286.70" x2="227.20" y2="382.60" stroke="#b8b8b8" stroke-opacity="0.55" stroke-width="0.8"/>
<line x1="243.83" y1="286.70" x2="243.83" y2="382.60" stroke="#b8b8b8" stroke-opacity="0.55" stroke-width="0.8"/>
<line x1="260.46" y1="286.70" x2="260.46" y2="382.60" stroke="#b8b8b8" stroke-opacity="0.55" stroke-width="0.8"/>
<line x1="277.09" y1="286.70" x2="277.09" y2="382.60" stroke="#b8b8b8" stroke-opacity="0.55" stroke-width="0.8"/>
<line x1="293.72" y1="286.70" x2="293.72" y2="382.60" stroke="#b8b8b8" stroke-opacity="0.55" stroke-width="0.8"/>
<line x1="310.35" y1="286.70" x2="310.35" y2="382.60" stroke="#b8b8b8" stroke-opacity="0.55" stroke-width="0.8"/>
<line x1="326.98" y1="286.70" x2="326.98" y2="382.60" stroke="#b8b8b8" stroke-opacity="0.55" stroke-width="0.8"/>
<line x1="343.61" y1="286.70" x2="343.61" y2="382.60" stroke="#b8b8b8" stroke-opacity="0.55" stroke-width="0.8"/>
<line x1="196.90" y1="382.60" x2="343.60" y2="382.60" stroke="#b8b8b8" stroke-opacity="0.55" stroke-width="0.8"/>
<line x1="196.90" y1="364.20" x2="343.60" y2="364.20" stroke="#b8b8b8" stroke-opacity="0.55" stroke-width="0.8"/>
<line x1="196.90" y1="345.80" x2="343.60" y2="345.80" stroke="#b8b8b8" stroke-opacity="0.55" stroke-width="0.8"/>
<line x1="196.90" y1="327.40" x2="343.60" y2="327.40" stroke="#b8b8b8" stroke-opacity="0.55" stroke-width="0.8"/>
<line x1="196.90" y1="309.00" x2="343.60" y2="309.00" stroke="#b8b8b8" stroke-opacity="0.55" stroke-width="0.8"/>
<line x1="196.90" y1="290.60" x2="343.60" y2="290.60" stroke="#b8b8b8" stroke-opacity="0.55" stroke-width="0.8"/>
<rect x="196.90" y="286.70" width="146.70" height="95.90" fill="none" stroke="#9a9a9a" stroke-width="0.9"/>
<polyline points="203.59,382.60 204.25,382.60 204.92,382.60 205.59,382.60 206.25,382.60 206.92,382.60 207.59,382.60 208.25,382.60 208.92,382.60 209.59,382.60 210.25,382.60 210.92,382.60 211.59,382.60 212.25,382.60 212.92,382.60 213.59,382.59 214.26,382.58 214.92,382.56 215.59,382.53 216.26,382.46 216.92,382.34 217.59,382.13 218.26,381.79 218.92,381.24 219.59,380.41 220.26,379.21 220.92,377.54 221.59,375.32 222.26,372.51 222.92,369.14 223.59,365.30 224.26,361.19 224.93,357.07 225.59,353.28 226.26,350.18 226.93,348.06 227.59,347.16 228.26,347.58 228.93,349.27 229.59,352.04 230.26,355.61 230.93,359.65 231.59,363.80 232.26,367.77 232.93,371.33 233.59,374.35 234.26,376.78 234.93,378.65 235.59,380.02 236.26,380.97 236.93,381.61 237.60,382.02 238.26,382.28 238.93,382.42 239.60,382.51 240.26,382.55 240.93,382.58 241.60,382.59 242.26,382.60 242.93,382.60 243.60,382.60 244.26,382.60 244.93,382.60 245.60,382.60 246.26,382.60 246.93,382.60 247.60,382.60 248.27,382.60 248.93,382.60 249.60,382.60 250.27,382.60 250.93,382.60 251.60,382.60 252.27,382.60 252.93,382.60 253.60,382.60 254.27,382.60 254.93,382.60 255.60,382.60 256.27,382.60 256.93,382.60 257.60,382.60 258.27,382.60 258.94,382.60 259.60,382.60 260.27,382.60 260.94,382.60 261.60,382.60 262.27,382.60 262.94,382.60 263.60,382.60 264.27,382.60 264.94,382.60 265.60,382.60 266.27,382.60 266.94,382.60 267.60,382.60 268.27,382.60 268.94,382.60 269.60,382.60 270.27,382.60 270.94,382.60 271.61,382.60 272.27,382.60 272.94,382.60 273.61,382.60 274.27,382.60 274.94,382.60 275.61,382.60 276.27,382.60 276.94,382.60 277.61,382.60 278.27,382.60 278.94,382.60 279.61,382.60 280.27,382.60 280.94,382.60 281.61,382.60 282.28,382.60 282.94,382.60 283.61,382.60 284.28,382.60 284.94,382.60 285.61,382.60 286.28,382.60 286.94,382.60 287.61,382.60 288.28,382.60 288.94,382.60 289.61,382.60 290.28,382.60 290.94,382.60 291.61,382.60 292.28,382.60 292.95,382.60 293.61,382.60 294.28,382.60 294.95,382.60 295.61,382.60 296.28,382.60 296.95,382.60 297.61,382.60 298.28,382.60 298.95,382.60 299.61,382.60 300.28,382.60 300.95,382.60 301.61,382.60 302.28,382.60 302.95,382.60 303.61,382.60 304.28,382.60 304.95,382.60 305.62,382.60 306.28,382.60 306.95,382.60 307.62,382.60 308.28,382.60 308.95,382.60 309.62,382.60 310.28,382.60 310.95,382.60 311.62,382.60 312.28,382.60 312.95,382.60 313.62,382.60 314.28,382.60 314.95,382.60 315.62,382.60 316.29,382.60 316.95,382.60 317.62,382.60 318.29,382.60 318.95,382.60 319.62,382.60 320.29,382.60 320.95,382.60 321.62,382.60 322.29,382.60 322.95,382.60 323.62,382.60 324.29,382.60 324.95,382.60 325.62,382.60 326.29,382.60 326.96,382.60 327.62,382.60 328.29,382.60 328.96,382.60 329.62,382.60 330.29,382.60 330.96,382.60 331.62,382.60 332.29,382.60 332.96,382.60 333.62,382.60 334.29,382.60 334.96,382.60 335.62,382.60 336.29,382.60 336.96,382.60" fill="none" stroke="#f53f4c" stroke-width="1.35" stroke-dasharray="2.3,1.25"/>
</g>
<line x1="210.57" y1="382.60" x2="210.57" y2="384.40" stroke="#555" stroke-width="0.7"/>
<text transform="translate(210.67,389.70) scale(0.95,1)" text-anchor="middle" class="tk">−1</text>
<line x1="227.20" y1="382.60" x2="227.20" y2="384.40" stroke="#555" stroke-width="0.7"/>
<text transform="translate(227.30,389.70) scale(0.95,1)" text-anchor="middle" class="tk">0</text>
<line x1="243.83" y1="382.60" x2="243.83" y2="384.40" stroke="#555" stroke-width="0.7"/>
<text transform="translate(243.93,389.70) scale(0.95,1)" text-anchor="middle" class="tk">1</text>
<line x1="260.46" y1="382.60" x2="260.46" y2="384.40" stroke="#555" stroke-width="0.7"/>
<text transform="translate(260.56,389.70) scale(0.95,1)" text-anchor="middle" class="tk">2</text>
<line x1="277.09" y1="382.60" x2="277.09" y2="384.40" stroke="#555" stroke-width="0.7"/>
<text transform="translate(277.19,389.70) scale(0.95,1)" text-anchor="middle" class="tk">3</text>
<line x1="293.72" y1="382.60" x2="293.72" y2="384.40" stroke="#555" stroke-width="0.7"/>
<text transform="translate(293.82,389.70) scale(0.95,1)" text-anchor="middle" class="tk">4</text>
<line x1="310.35" y1="382.60" x2="310.35" y2="384.40" stroke="#555" stroke-width="0.7"/>
<text transform="translate(310.45,389.70) scale(0.95,1)" text-anchor="middle" class="tk">5</text>
<line x1="326.98" y1="382.60" x2="326.98" y2="384.40" stroke="#555" stroke-width="0.7"/>
<text transform="translate(327.08,389.70) scale(0.95,1)" text-anchor="middle" class="tk">6</text>
<line x1="343.61" y1="382.60" x2="343.61" y2="384.40" stroke="#555" stroke-width="0.7"/>
<text transform="translate(343.71,389.70) scale(0.95,1)" text-anchor="middle" class="tk">7</text>
<line x1="195.10" y1="382.60" x2="196.90" y2="382.60" stroke="#555" stroke-width="0.7"/>
<text transform="translate(193.90,384.80) scale(0.95,1)" text-anchor="end" class="tk">0</text>
<line x1="195.10" y1="364.20" x2="196.90" y2="364.20" stroke="#555" stroke-width="0.7"/>
<text transform="translate(193.90,366.40) scale(0.95,1)" text-anchor="end" class="tk">1</text>
<line x1="195.10" y1="345.80" x2="196.90" y2="345.80" stroke="#555" stroke-width="0.7"/>
<text transform="translate(193.90,348.00) scale(0.95,1)" text-anchor="end" class="tk">2</text>
<line x1="195.10" y1="327.40" x2="196.90" y2="327.40" stroke="#555" stroke-width="0.7"/>
<text transform="translate(193.90,329.60) scale(0.95,1)" text-anchor="end" class="tk">3</text>
<line x1="195.10" y1="309.00" x2="196.90" y2="309.00" stroke="#555" stroke-width="0.7"/>
<text transform="translate(193.90,311.20) scale(0.95,1)" text-anchor="end" class="tk">4</text>
<line x1="195.10" y1="290.60" x2="196.90" y2="290.60" stroke="#555" stroke-width="0.7"/>
<text transform="translate(193.90,292.80) scale(0.95,1)" text-anchor="end" class="tk">5</text>
<text x="221.30" y="283.90" class="ti" textLength="45.90" lengthAdjust="spacingAndGlyphs">Residuals of N22:</text>
<text x="268.40" y="283.90" class="ti" textLength="50.40" lengthAdjust="spacingAndGlyphs">μ=0.031,3σ=0.621</text>
<text transform="translate(269.90,396.10) scale(0.96,1)" text-anchor="middle" class="lb">values</text>
<text transform="translate(188.10,334.60) rotate(-90) scale(0.96,1)" text-anchor="middle" class="lb">Probability</text>
<text transform="translate(260.60,410.10) scale(1.17,1)" class="cp">(f)</text>
<clipPath id="c6"><rect x="24.10" y="423.90" width="141.90" height="92.90"/></clipPath>
<g clip-path="url(#c6)">
<path d="M54.00,515.80 L54.00,515.15 L56.00,515.15 L56.00,514.50 L57.20,514.50 L57.20,510.62 L58.60,510.62 L58.60,501.55 L59.40,501.55 L59.40,489.90 L60.10,489.90 L60.10,470.47 L61.20,470.47 L61.20,451.05 L62.30,451.05 L62.30,445.87 L63.70,445.87 L63.70,429.68 L64.70,429.68 L64.70,441.34 L66.00,441.34 L66.00,441.98 L67.50,441.98 L67.50,444.57 L68.40,444.57 L68.40,451.05 L69.20,451.05 L69.20,458.82 L70.00,458.82 L70.00,454.42 L71.30,454.42 L71.30,469.18 L72.30,469.18 L72.30,484.72 L73.50,484.72 L73.50,498.32 L74.40,498.32 L74.40,506.73 L76.00,506.73 L76.00,511.40 L77.00,511.40 L77.00,514.50 L80.00,514.50 L80.00,515.54 L85.00,515.54 L85.00,515.80 Z" fill="#0b9bd0"/>
<line x1="33.30" y1="424.90" x2="33.30" y2="515.80" stroke="#b8b8b8" stroke-opacity="0.55" stroke-width="0.8"/>
<line x1="50.25" y1="424.90" x2="50.25" y2="515.80" stroke="#b8b8b8" stroke-opacity="0.55" stroke-width="0.8"/>
<line x1="67.20" y1="424.90" x2="67.20" y2="515.80" stroke="#b8b8b8" stroke-opacity="0.55" stroke-width="0.8"/>
<line x1="84.15" y1="424.90" x2="84.15" y2="515.80" stroke="#b8b8b8" stroke-opacity="0.55" stroke-width="0.8"/>
<line x1="101.10" y1="424.90" x2="101.10" y2="515.80" stroke="#b8b8b8" stroke-opacity="0.55" stroke-width="0.8"/>
<line x1="118.05" y1="424.90" x2="118.05" y2="515.80" stroke="#b8b8b8" stroke-opacity="0.55" stroke-width="0.8"/>
<line x1="135.00" y1="424.90" x2="135.00" y2="515.80" stroke="#b8b8b8" stroke-opacity="0.55" stroke-width="0.8"/>
<line x1="151.95" y1="424.90" x2="151.95" y2="515.80" stroke="#b8b8b8" stroke-opacity="0.55" stroke-width="0.8"/>
<line x1="25.10" y1="515.80" x2="165.00" y2="515.80" stroke="#b8b8b8" stroke-opacity="0.55" stroke-width="0.8"/>
<line x1="25.10" y1="502.85" x2="165.00" y2="502.85" stroke="#b8b8b8" stroke-opacity="0.55" stroke-width="0.8"/>
<line x1="25.10" y1="489.90" x2="165.00" y2="489.90" stroke="#b8b8b8" stroke-opacity="0.55" stroke-width="0.8"/>
<line x1="25.10" y1="476.95" x2="165.00" y2="476.95" stroke="#b8b8b8" stroke-opacity="0.55" stroke-width="0.8"/>
<line x1="25.10" y1="464.00" x2="165.00" y2="464.00" stroke="#b8b8b8" stroke-opacity="0.55" stroke-width="0.8"/>
<line x1="25.10" y1="451.05" x2="165.00" y2="451.05" stroke="#b8b8b8" stroke-opacity="0.55" stroke-width="0.8"/>
<line x1="25.10" y1="438.10" x2="165.00" y2="438.10" stroke="#b8b8b8" stroke-opacity="0.55" stroke-width="0.8"/>
<rect x="25.10" y="424.90" width="139.90" height="90.90" fill="none" stroke="#9a9a9a" stroke-width="0.9"/>
<polyline points="31.94,515.80 32.57,515.80 33.20,515.80 33.83,515.80 34.45,515.80 35.08,515.80 35.71,515.80 36.33,515.80 36.96,515.80 37.59,515.80 38.22,515.80 38.84,515.80 39.47,515.80 40.10,515.80 40.72,515.80 41.35,515.80 41.98,515.80 42.61,515.80 43.23,515.80 43.86,515.80 44.49,515.80 45.11,515.80 45.74,515.79 46.37,515.79 47.00,515.78 47.62,515.77 48.25,515.76 48.88,515.73 49.50,515.68 50.13,515.61 50.76,515.50 51.39,515.34 52.01,515.10 52.64,514.77 53.27,514.29 53.89,513.63 54.52,512.75 55.15,511.57 55.78,510.05 56.40,508.11 57.03,505.70 57.66,502.76 58.28,499.25 58.91,495.18 59.54,490.54 60.17,485.40 60.79,479.84 61.42,474.02 62.05,468.09 62.67,462.26 63.30,456.77 63.93,451.85 64.56,447.72 65.18,444.58 65.81,442.59 66.44,441.86 67.06,442.41 67.69,444.23 68.32,447.21 68.95,451.22 69.57,456.04 70.20,461.47 70.83,467.26 71.45,473.18 72.08,479.04 72.71,484.64 73.34,489.85 73.96,494.56 74.59,498.72 75.22,502.30 75.84,505.32 76.47,507.80 77.10,509.80 77.73,511.38 78.35,512.60 78.98,513.52 79.61,514.21 80.23,514.71 80.86,515.06 81.49,515.31 82.12,515.48 82.74,515.60 83.37,515.67 84.00,515.72 84.62,515.75 85.25,515.77 85.88,515.78 86.51,515.79 87.13,515.79 87.76,515.80 88.39,515.80 89.01,515.80 89.64,515.80 90.27,515.80 90.90,515.80 91.52,515.80 92.15,515.80 92.78,515.80 93.40,515.80 94.03,515.80 94.66,515.80 95.29,515.80 95.91,515.80 96.54,515.80 97.17,515.80 97.79,515.80 98.42,515.80 99.05,515.80 99.68,515.80 100.30,515.80 100.93,515.80 101.56,515.80 102.18,515.80 102.81,515.80 103.44,515.80 104.07,515.80 104.69,515.80 105.32,515.80 105.95,515.80 106.57,515.80 107.20,515.80 107.83,515.80 108.46,515.80 109.08,515.80 109.71,515.80 110.34,515.80 110.96,515.80 111.59,515.80 112.22,515.80 112.85,515.80 113.47,515.80 114.10,515.80 114.73,515.80 115.35,515.80 115.98,515.80 116.61,515.80 117.24,515.80 117.86,515.80 118.49,515.80 119.12,515.80 119.75,515.80 120.37,515.80 121.00,515.80 121.63,515.80 122.25,515.80 122.88,515.80 123.51,515.80 124.14,515.80 124.76,515.80 125.39,515.80 126.02,515.80 126.64,515.80 127.27,515.80 127.90,515.80 128.53,515.80 129.15,515.80 129.78,515.80 130.41,515.80 131.03,515.80 131.66,515.80 132.29,515.80 132.92,515.80 133.54,515.80 134.17,515.80 134.80,515.80 135.42,515.80 136.05,515.80 136.68,515.80 137.31,515.80 137.93,515.80 138.56,515.80 139.19,515.80 139.81,515.80 140.44,515.80 141.07,515.80 141.70,515.80 142.32,515.80 142.95,515.80 143.58,515.80 144.20,515.80 144.83,515.80 145.46,515.80 146.09,515.80 146.71,515.80 147.34,515.80 147.97,515.80 148.59,515.80 149.22,515.80 149.85,515.80 150.48,515.80 151.10,515.80 151.73,515.80 152.36,515.80 152.98,515.80 153.61,515.80 154.24,515.80 154.87,515.80 155.49,515.80 156.12,515.80 156.75,515.80 157.37,515.80" fill="none" stroke="#f53f4c" stroke-width="1.35" stroke-dasharray="2.3,1.25"/>
</g>
<line x1="33.30" y1="515.80" x2="33.30" y2="517.60" stroke="#555" stroke-width="0.7"/>
<text transform="translate(33.40,522.60) scale(0.95,1)" text-anchor="middle" class="tk">−5.0</text>
<line x1="50.25" y1="515.80" x2="50.25" y2="517.60" stroke="#555" stroke-width="0.7"/>
<text transform="translate(50.35,522.60) scale(0.95,1)" text-anchor="middle" class="tk">−2.5</text>
<line x1="67.20" y1="515.80" x2="67.20" y2="517.60" stroke="#555" stroke-width="0.7"/>
<text transform="translate(67.30,522.60) scale(0.95,1)" text-anchor="middle" class="tk">0.0</text>
<line x1="84.15" y1="515.80" x2="84.15" y2="517.60" stroke="#555" stroke-width="0.7"/>
<text transform="translate(84.25,522.60) scale(0.95,1)" text-anchor="middle" class="tk">2.5</text>
<line x1="101.10" y1="515.80" x2="101.10" y2="517.60" stroke="#555" stroke-width="0.7"/>
<text transform="translate(101.20,522.60) scale(0.95,1)" text-anchor="middle" class="tk">5.0</text>
<line x1="118.05" y1="515.80" x2="118.05" y2="517.60" stroke="#555" stroke-width="0.7"/>
<text transform="translate(118.15,522.60) scale(0.95,1)" text-anchor="middle" class="tk">7.5</text>
<line x1="135.00" y1="515.80" x2="135.00" y2="517.60" stroke="#555" stroke-width="0.7"/>
<text transform="translate(135.10,522.60) scale(0.95,1)" text-anchor="middle" class="tk">10.0</text>
<line x1="151.95" y1="515.80" x2="151.95" y2="517.60" stroke="#555" stroke-width="0.7"/>
<text transform="translate(152.05,522.60) scale(0.95,1)" text-anchor="middle" class="tk">12.5</text>
<line x1="23.30" y1="515.80" x2="25.10" y2="515.80" stroke="#555" stroke-width="0.7"/>
<text transform="translate(22.10,518.00) scale(0.95,1)" text-anchor="end" class="tk">0.0</text>
<line x1="23.30" y1="502.85" x2="25.10" y2="502.85" stroke="#555" stroke-width="0.7"/>
<text transform="translate(22.10,505.05) scale(0.95,1)" text-anchor="end" class="tk">0.1</text>
<line x1="23.30" y1="489.90" x2="25.10" y2="489.90" stroke="#555" stroke-width="0.7"/>
<text transform="translate(22.10,492.10) scale(0.95,1)" text-anchor="end" class="tk">0.2</text>
<line x1="23.30" y1="476.95" x2="25.10" y2="476.95" stroke="#555" stroke-width="0.7"/>
<text transform="translate(22.10,479.15) scale(0.95,1)" text-anchor="end" class="tk">0.3</text>
<line x1="23.30" y1="464.00" x2="25.10" y2="464.00" stroke="#555" stroke-width="0.7"/>
<text transform="translate(22.10,466.20) scale(0.95,1)" text-anchor="end" class="tk">0.4</text>
<line x1="23.30" y1="451.05" x2="25.10" y2="451.05" stroke="#555" stroke-width="0.7"/>
<text transform="translate(22.10,453.25) scale(0.95,1)" text-anchor="end" class="tk">0.5</text>
<line x1="23.30" y1="438.10" x2="25.10" y2="438.10" stroke="#555" stroke-width="0.7"/>
<text transform="translate(22.10,440.30) scale(0.95,1)" text-anchor="end" class="tk">0.6</text>
<text x="33.20" y="422.60" class="ti" textLength="72.90" lengthAdjust="spacingAndGlyphs">Residuals of PRECOOL_PRS1:</text>
<text x="111.60" y="422.60" class="ti2" textLength="49.00" lengthAdjust="spacingAndGlyphs">μ= − 0.106,3σ=2.096</text>
<text transform="translate(95.00,528.90) scale(0.96,1)" text-anchor="middle" class="lb">values</text>
<text transform="translate(14.00,471.20) rotate(-90) scale(0.96,1)" text-anchor="middle" class="lb">Probability</text>
<text transform="translate(81.90,544.00) scale(1.17,1)" class="cp">(g)</text>
<clipPath id="c7"><rect x="201.90" y="423.80" width="142.30" height="93.30"/></clipPath>
<g clip-path="url(#c7)">
<path d="M241.00,516.10 L241.00,515.47 L243.00,515.47 L243.00,511.54 L245.00,511.54 L245.00,500.91 L246.00,500.91 L246.00,478.12 L247.00,478.12 L247.00,465.46 L248.00,465.46 L248.00,455.97 L249.00,455.97 L249.00,429.38 L250.40,429.38 L250.40,442.67 L251.50,442.67 L251.50,447.74 L252.50,447.74 L252.50,438.87 L253.60,438.87 L253.60,454.07 L255.00,454.07 L255.00,458.50 L256.50,458.50 L256.50,464.19 L257.50,464.19 L257.50,488.88 L258.50,488.88 L258.50,502.17 L260.00,502.17 L260.00,512.30 L262.00,512.30 L262.00,515.09 L266.00,515.09 L266.00,516.10 Z" fill="#0b9bd0"/>
<line x1="205.40" y1="424.80" x2="205.40" y2="516.10" stroke="#b8b8b8" stroke-opacity="0.55" stroke-width="0.8"/>
<line x1="221.30" y1="424.80" x2="221.30" y2="516.10" stroke="#b8b8b8" stroke-opacity="0.55" stroke-width="0.8"/>
<line x1="237.20" y1="424.80" x2="237.20" y2="516.10" stroke="#b8b8b8" stroke-opacity="0.55" stroke-width="0.8"/>
<line x1="253.10" y1="424.80" x2="253.10" y2="516.10" stroke="#b8b8b8" stroke-opacity="0.55" stroke-width="0.8"/>
<line x1="269.00" y1="424.80" x2="269.00" y2="516.10" stroke="#b8b8b8" stroke-opacity="0.55" stroke-width="0.8"/>
<line x1="284.90" y1="424.80" x2="284.90" y2="516.10" stroke="#b8b8b8" stroke-opacity="0.55" stroke-width="0.8"/>
<line x1="300.80" y1="424.80" x2="300.80" y2="516.10" stroke="#b8b8b8" stroke-opacity="0.55" stroke-width="0.8"/>
<line x1="316.70" y1="424.80" x2="316.70" y2="516.10" stroke="#b8b8b8" stroke-opacity="0.55" stroke-width="0.8"/>
<line x1="332.60" y1="424.80" x2="332.60" y2="516.10" stroke="#b8b8b8" stroke-opacity="0.55" stroke-width="0.8"/>
<line x1="202.90" y1="516.10" x2="343.20" y2="516.10" stroke="#b8b8b8" stroke-opacity="0.55" stroke-width="0.8"/>
<line x1="202.90" y1="503.44" x2="343.20" y2="503.44" stroke="#b8b8b8" stroke-opacity="0.55" stroke-width="0.8"/>
<line x1="202.90" y1="490.78" x2="343.20" y2="490.78" stroke="#b8b8b8" stroke-opacity="0.55" stroke-width="0.8"/>
<line x1="202.90" y1="478.12" x2="343.20" y2="478.12" stroke="#b8b8b8" stroke-opacity="0.55" stroke-width="0.8"/>
<line x1="202.90" y1="465.46" x2="343.20" y2="465.46" stroke="#b8b8b8" stroke-opacity="0.55" stroke-width="0.8"/>
<line x1="202.90" y1="452.80" x2="343.20" y2="452.80" stroke="#b8b8b8" stroke-opacity="0.55" stroke-width="0.8"/>
<line x1="202.90" y1="440.14" x2="343.20" y2="440.14" stroke="#b8b8b8" stroke-opacity="0.55" stroke-width="0.8"/>
<line x1="202.90" y1="427.48" x2="343.20" y2="427.48" stroke="#b8b8b8" stroke-opacity="0.55" stroke-width="0.8"/>
<rect x="202.90" y="424.80" width="140.30" height="91.30" fill="none" stroke="#9a9a9a" stroke-width="0.9"/>
<polyline points="206.67,516.10 207.33,516.10 207.98,516.10 208.64,516.10 209.29,516.10 209.95,516.10 210.60,516.10 211.26,516.10 211.91,516.10 212.57,516.10 213.22,516.10 213.88,516.10 214.53,516.10 215.19,516.10 215.84,516.10 216.50,516.10 217.15,516.10 217.81,516.10 218.46,516.10 219.12,516.10 219.77,516.10 220.43,516.10 221.08,516.10 221.74,516.10 222.39,516.10 223.05,516.10 223.70,516.10 224.36,516.10 225.01,516.10 225.67,516.10 226.32,516.10 226.98,516.10 227.63,516.10 228.29,516.10 228.94,516.10 229.60,516.10 230.25,516.10 230.91,516.10 231.57,516.10 232.22,516.10 232.88,516.09 233.53,516.08 234.19,516.07 234.84,516.05 235.50,516.02 236.15,515.96 236.81,515.87 237.46,515.73 238.12,515.52 238.77,515.20 239.43,514.74 240.08,514.08 240.74,513.16 241.39,511.91 242.05,510.26 242.70,508.12 243.36,505.42 244.01,502.11 244.67,498.14 245.32,493.53 245.98,488.32 246.63,482.61 247.29,476.56 247.94,470.37 248.60,464.31 249.25,458.66 249.91,453.70 250.56,449.71 251.22,446.92 251.87,445.50 252.53,445.53 253.18,447.02 253.84,449.87 254.49,453.92 255.15,458.92 255.80,464.60 256.46,470.67 257.11,476.86 257.77,482.90 258.42,488.59 259.08,493.77 259.73,498.35 260.39,502.28 261.04,505.57 261.70,508.24 262.35,510.35 263.01,511.98 263.66,513.21 264.32,514.12 264.97,514.76 265.63,515.22 266.28,515.53 266.94,515.74 267.59,515.88 268.25,515.97 268.90,516.02 269.56,516.05 270.21,516.07 270.87,516.09 271.52,516.09 272.18,516.10 272.84,516.10 273.49,516.10 274.15,516.10 274.80,516.10 275.46,516.10 276.11,516.10 276.77,516.10 277.42,516.10 278.08,516.10 278.73,516.10 279.39,516.10 280.04,516.10 280.70,516.10 281.35,516.10 282.01,516.10 282.66,516.10 283.32,516.10 283.97,516.10 284.63,516.10 285.28,516.10 285.94,516.10 286.59,516.10 287.25,516.10 287.90,516.10 288.56,516.10 289.21,516.10 289.87,516.10 290.52,516.10 291.18,516.10 291.83,516.10 292.49,516.10 293.14,516.10 293.80,516.10 294.45,516.10 295.11,516.10 295.76,516.10 296.42,516.10 297.07,516.10 297.73,516.10 298.38,516.10 299.04,516.10 299.69,516.10 300.35,516.10 301.00,516.10 301.66,516.10 302.31,516.10 302.97,516.10 303.62,516.10 304.28,516.10 304.93,516.10 305.59,516.10 306.24,516.10 306.90,516.10 307.55,516.10 308.21,516.10 308.86,516.10 309.52,516.10 310.17,516.10 310.83,516.10 311.48,516.10 312.14,516.10 312.79,516.10 313.45,516.10 314.11,516.10 314.76,516.10 315.42,516.10 316.07,516.10 316.73,516.10 317.38,516.10 318.04,516.10 318.69,516.10 319.35,516.10 320.00,516.10 320.66,516.10 321.31,516.10 321.97,516.10 322.62,516.10 323.28,516.10 323.93,516.10 324.59,516.10 325.24,516.10 325.90,516.10 326.55,516.10 327.21,516.10 327.86,516.10 328.52,516.10 329.17,516.10 329.83,516.10 330.48,516.10 331.14,516.10 331.79,516.10 332.45,516.10 333.10,516.10 333.76,516.10 334.41,516.10 335.07,516.10 335.72,516.10 336.38,516.10 337.03,516.10 337.69,516.10" fill="none" stroke="#f53f4c" stroke-width="1.35" stroke-dasharray="2.3,1.25"/>
</g>
<line x1="205.40" y1="516.10" x2="205.40" y2="517.90" stroke="#555" stroke-width="0.7"/>
<text transform="translate(205.50,522.70) scale(0.95,1)" text-anchor="middle" class="tk">−7.5</text>
<line x1="221.30" y1="516.10" x2="221.30" y2="517.90" stroke="#555" stroke-width="0.7"/>
<text transform="translate(221.40,522.70) scale(0.95,1)" text-anchor="middle" class="tk">−5.0</text>
<line x1="237.20" y1="516.10" x2="237.20" y2="517.90" stroke="#555" stroke-width="0.7"/>
<text transform="translate(237.30,522.70) scale(0.95,1)" text-anchor="middle" class="tk">−2.5</text>
<line x1="253.10" y1="516.10" x2="253.10" y2="517.90" stroke="#555" stroke-width="0.7"/>
<text transform="translate(253.20,522.70) scale(0.95,1)" text-anchor="middle" class="tk">0.0</text>
<line x1="269.00" y1="516.10" x2="269.00" y2="517.90" stroke="#555" stroke-width="0.7"/>
<text transform="translate(269.10,522.70) scale(0.95,1)" text-anchor="middle" class="tk">2.5</text>
<line x1="284.90" y1="516.10" x2="284.90" y2="517.90" stroke="#555" stroke-width="0.7"/>
<text transform="translate(285.00,522.70) scale(0.95,1)" text-anchor="middle" class="tk">5.0</text>
<line x1="300.80" y1="516.10" x2="300.80" y2="517.90" stroke="#555" stroke-width="0.7"/>
<text transform="translate(300.90,522.70) scale(0.95,1)" text-anchor="middle" class="tk">7.5</text>
<line x1="316.70" y1="516.10" x2="316.70" y2="517.90" stroke="#555" stroke-width="0.7"/>
<text transform="translate(316.80,522.70) scale(0.95,1)" text-anchor="middle" class="tk">10.0</text>
<line x1="332.60" y1="516.10" x2="332.60" y2="517.90" stroke="#555" stroke-width="0.7"/>
<text transform="translate(332.70,522.70) scale(0.95,1)" text-anchor="middle" class="tk">12.5</text>
<line x1="201.10" y1="516.10" x2="202.90" y2="516.10" stroke="#555" stroke-width="0.7"/>
<text transform="translate(199.90,518.30) scale(0.95,1)" text-anchor="end" class="tk">0.0</text>
<line x1="201.10" y1="503.44" x2="202.90" y2="503.44" stroke="#555" stroke-width="0.7"/>
<text transform="translate(199.90,505.64) scale(0.95,1)" text-anchor="end" class="tk">0.1</text>
<line x1="201.10" y1="490.78" x2="202.90" y2="490.78" stroke="#555" stroke-width="0.7"/>
<text transform="translate(199.90,492.98) scale(0.95,1)" text-anchor="end" class="tk">0.2</text>
<line x1="201.10" y1="478.12" x2="202.90" y2="478.12" stroke="#555" stroke-width="0.7"/>
<text transform="translate(199.90,480.32) scale(0.95,1)" text-anchor="end" class="tk">0.3</text>
<line x1="201.10" y1="465.46" x2="202.90" y2="465.46" stroke="#555" stroke-width="0.7"/>
<text transform="translate(199.90,467.66) scale(0.95,1)" text-anchor="end" class="tk">0.4</text>
<line x1="201.10" y1="452.80" x2="202.90" y2="452.80" stroke="#555" stroke-width="0.7"/>
<text transform="translate(199.90,455.00) scale(0.95,1)" text-anchor="end" class="tk">0.5</text>
<line x1="201.10" y1="440.14" x2="202.90" y2="440.14" stroke="#555" stroke-width="0.7"/>
<text transform="translate(199.90,442.34) scale(0.95,1)" text-anchor="end" class="tk">0.6</text>
<line x1="201.10" y1="427.48" x2="202.90" y2="427.48" stroke="#555" stroke-width="0.7"/>
<text transform="translate(199.90,429.68) scale(0.95,1)" text-anchor="end" class="tk">0.7</text>
<text x="210.60" y="422.60" class="ti" textLength="72.70" lengthAdjust="spacingAndGlyphs">Residuals of PRECOOL_PRS2:</text>
<text x="286.60" y="422.60" class="ti2" textLength="48.70" lengthAdjust="spacingAndGlyphs">μ= − 0.144,3σ=2.141</text>
<text transform="translate(272.50,528.90) scale(0.96,1)" text-anchor="middle" class="lb">values</text>
<text transform="translate(190.80,471.20) rotate(-90) scale(0.96,1)" text-anchor="middle" class="lb">Probability</text>
<text transform="translate(259.30,544.30) scale(1.17,1)" class="cp">(h)</text>
</svg>
</body></html>
